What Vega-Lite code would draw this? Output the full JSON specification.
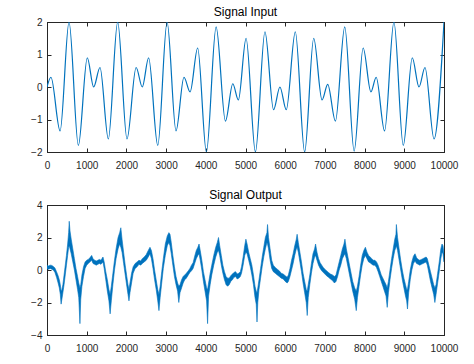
{
 "$schema": "https://vega.github.io/schema/vega-lite/v6.json",
 "padding": {"left": 30, "top": 5, "right": 5, "bottom": 5},
 "background": "white",
 "config": {
  "font": "Liberation Sans",
  "view": {"stroke": "#262626", "strokeWidth": 1},
  "axis": {"grid": false, "labelFont": "Liberation Sans", "labelFontSize": 10, "labelColor": "#262626", "domainColor": "#262626", "tickColor": "#262626", "tickSize": -4, "title": null, "labelOverlap": false, "labelFlush": false, "format": "d"},
  "axisX": {"labelPadding": 12},
  "axisY": {"labelPadding": 9},
  "title": {"fontSize": 12, "fontWeight": "normal", "color": "#000000", "offset": -2, "font": "Liberation Sans"},
  "concat": {"spacing": 17}
 },
 "vconcat": [
  {
   "width": 397, "height": 130,
   "title": "Signal Input",
   "data": {"values": [
    {"x":0,"y":0.0},{"x":100,"y":0.3},{"x":330,"y":-1.35},{"x":555,"y":2.0},{"x":790,"y":-1.8},{"x":1015,"y":0.9},{"x":1175,"y":0.0},{"x":1335,"y":0.6},{"x":1545,"y":-1.6},{"x":1780,"y":2.0},{"x":2015,"y":-1.6},{"x":2245,"y":0.6},{"x":2400,"y":0.0},{"x":2560,"y":0.9},{"x":2790,"y":-1.8},{"x":3025,"y":2.0},{"x":3250,"y":-1.35},{"x":3450,"y":0.3},{"x":3605,"y":-0.15},{"x":3795,"y":1.2},{"x":4015,"y":-2.0},{"x":4260,"y":1.85},{"x":4495,"y":-1.05},{"x":4680,"y":0.1},{"x":4820,"y":-0.4},{"x":5015,"y":1.5},{"x":5250,"y":-2.0},{"x":5490,"y":1.7},{"x":5707,"y":-0.7},{"x":5867,"y":0.0},{"x":6027,"y":-0.7},{"x":6255,"y":1.7},{"x":6490,"y":-2.0},{"x":6718,"y":1.5},{"x":6928,"y":-0.4},{"x":7071,"y":0.08},{"x":7265,"y":-1.05},{"x":7500,"y":1.85},{"x":7737,"y":-1.97},{"x":7964,"y":1.2},{"x":8158,"y":-0.15},{"x":8292,"y":0.3},{"x":8503,"y":-1.35},{"x":8739,"y":2.0},{"x":8974,"y":-1.8},{"x":9201,"y":0.9},{"x":9370,"y":0.0},{"x":9521,"y":0.6},{"x":9749,"y":-1.6},{"x":10000,"y":2.0}
   ]},
   "layer": [
    {
     "mark": {"type": "line", "color": "#0072BD", "strokeWidth": 1.2, "interpolate": "monotone", "clip": true},
     "encoding": {
      "x": {"field": "x", "type": "quantitative", "scale": {"domain": [0, 10000], "nice": false}, "axis": {"values": [0,1000,2000,3000,4000,5000,6000,7000,8000,9000,10000], "orient": "bottom"}},
      "y": {"field": "y", "type": "quantitative", "scale": {"domain": [-2, 2], "nice": false}, "axis": {"values": [-2,-1,0,1,2], "orient": "left"}}
     }
    },
    {
     "mark": {"type": "line", "opacity": 0, "clip": true},
     "encoding": {
      "x": {"field": "x", "type": "quantitative", "axis": {"values": [0,1000,2000,3000,4000,5000,6000,7000,8000,9000,10000], "orient": "top", "labels": false}},
      "y": {"field": "y", "type": "quantitative", "axis": {"values": [-2,-1,0,1,2], "orient": "right", "labels": false}}
     }
    }
   ],
   "resolve": {"axis": {"x": "independent", "y": "independent"}}
  },
  {
   "width": 397, "height": 130,
   "title": "Signal Output",
   "data": {"values": [
    {"x":0,"lo":0.08,"hi":0.3},{"x":40,"lo":0.05,"hi":0.25},{"x":80,"lo":0.1,"hi":0.3},{"x":120,"lo":0.05,"hi":0.28},{"x":160,"lo":0.0,"hi":0.22},{"x":200,"lo":-0.15,"hi":0.12},{"x":240,"lo":-0.45,"hi":-0.1},{"x":280,"lo":-0.8,"hi":-0.35},{"x":310,"lo":-1.1,"hi":-0.6},{"x":335,"lo":-1.5,"hi":-0.9},{"x":355,"lo":-2.1,"hi":-1.3},{"x":375,"lo":-1.8,"hi":-1.2},{"x":400,"lo":-1.4,"hi":-0.9},{"x":430,"lo":-0.9,"hi":-0.3},{"x":460,"lo":-0.3,"hi":0.3},{"x":490,"lo":0.3,"hi":0.9},{"x":520,"lo":0.9,"hi":1.6},{"x":545,"lo":1.4,"hi":2.3},{"x":560,"lo":1.5,"hi":3.0},{"x":580,"lo":1.3,"hi":2.4},{"x":610,"lo":1.0,"hi":1.9},{"x":650,"lo":0.5,"hi":1.3},{"x":690,"lo":0.0,"hi":0.7},{"x":730,"lo":-0.6,"hi":0.1},{"x":770,"lo":-1.2,"hi":-0.4},{"x":800,"lo":-1.7,"hi":-0.8},{"x":830,"lo":-3.3,"hi":-1.1},{"x":850,"lo":-1.8,"hi":-0.9},{"x":880,"lo":-1.0,"hi":-0.3},{"x":920,"lo":-0.4,"hi":0.2},{"x":960,"lo":0.1,"hi":0.5},{"x":1000,"lo":0.3,"hi":0.6},{"x":1040,"lo":0.4,"hi":0.65},{"x":1080,"lo":0.5,"hi":0.75},{"x":1125,"lo":0.6,"hi":0.9},{"x":1160,"lo":0.4,"hi":0.7},{"x":1200,"lo":0.35,"hi":0.6},{"x":1240,"lo":0.3,"hi":0.55},{"x":1280,"lo":0.35,"hi":0.6},{"x":1320,"lo":0.4,"hi":0.65},{"x":1360,"lo":0.35,"hi":0.6},{"x":1410,"lo":0.5,"hi":0.8},{"x":1440,"lo":0.1,"hi":0.5},{"x":1480,"lo":-0.6,"hi":-0.1},{"x":1520,"lo":-1.3,"hi":-0.6},{"x":1560,"lo":-1.9,"hi":-1.2},{"x":1590,"lo":-2.7,"hi":-1.5},{"x":1620,"lo":-1.9,"hi":-1.0},{"x":1660,"lo":-0.9,"hi":-0.2},{"x":1700,"lo":0.0,"hi":0.6},{"x":1740,"lo":0.7,"hi":1.3},{"x":1790,"lo":1.3,"hi":2.0},{"x":1830,"lo":1.6,"hi":2.3},{"x":1860,"lo":1.4,"hi":2.6},{"x":1890,"lo":1.1,"hi":1.9},{"x":1930,"lo":0.4,"hi":1.1},{"x":1970,"lo":-0.3,"hi":0.3},{"x":2010,"lo":-1.0,"hi":-0.4},{"x":2040,"lo":-1.5,"hi":-0.9},{"x":2065,"lo":-1.9,"hi":-1.2},{"x":2090,"lo":-1.4,"hi":-0.8},{"x":2130,"lo":-0.8,"hi":-0.2},{"x":2170,"lo":-0.2,"hi":0.2},{"x":2220,"lo":0.1,"hi":0.4},{"x":2270,"lo":0.2,"hi":0.5},{"x":2317,"lo":0.35,"hi":0.6},{"x":2360,"lo":0.3,"hi":0.55},{"x":2400,"lo":0.4,"hi":0.7},{"x":2450,"lo":0.5,"hi":0.8},{"x":2500,"lo":0.6,"hi":0.95},{"x":2550,"lo":0.8,"hi":1.2},{"x":2594,"lo":1.0,"hi":1.4},{"x":2630,"lo":0.7,"hi":1.2},{"x":2670,"lo":0.1,"hi":0.7},{"x":2710,"lo":-0.6,"hi":0.0},{"x":2750,"lo":-1.2,"hi":-0.6},{"x":2790,"lo":-1.9,"hi":-1.2},{"x":2820,"lo":-2.5,"hi":-1.5},{"x":2850,"lo":-1.7,"hi":-1.0},{"x":2890,"lo":-0.8,"hi":-0.1},{"x":2930,"lo":0.1,"hi":0.7},{"x":2980,"lo":0.9,"hi":1.6},{"x":3030,"lo":1.5,"hi":2.1},{"x":3070,"lo":1.7,"hi":2.3},{"x":3098,"lo":1.5,"hi":2.2},{"x":3130,"lo":1.0,"hi":1.7},{"x":3170,"lo":0.3,"hi":0.9},{"x":3210,"lo":-0.4,"hi":0.2},{"x":3250,"lo":-0.9,"hi":-0.4},{"x":3290,"lo":-1.3,"hi":-0.8},{"x":3320,"lo":-2.0,"hi":-1.0},{"x":3350,"lo":-1.4,"hi":-0.9},{"x":3390,"lo":-1.1,"hi":-0.6},{"x":3430,"lo":-0.8,"hi":-0.4},{"x":3470,"lo":-0.6,"hi":-0.3},{"x":3510,"lo":-0.5,"hi":-0.2},{"x":3560,"lo":-0.3,"hi":-0.05},{"x":3600,"lo":-0.15,"hi":0.1},{"x":3640,"lo":-0.05,"hi":0.3},{"x":3680,"lo":0.1,"hi":0.45},{"x":3720,"lo":0.4,"hi":0.85},{"x":3760,"lo":0.7,"hi":1.2},{"x":3800,"lo":0.9,"hi":1.4},{"x":3830,"lo":1.0,"hi":1.6},{"x":3860,"lo":0.6,"hi":1.2},{"x":3900,"lo":0.0,"hi":0.6},{"x":3940,"lo":-0.7,"hi":-0.1},{"x":3980,"lo":-1.3,"hi":-0.6},{"x":4020,"lo":-1.9,"hi":-1.1},{"x":4045,"lo":-3.3,"hi":-1.2},{"x":4070,"lo":-1.6,"hi":-0.8},{"x":4110,"lo":-0.9,"hi":-0.2},{"x":4150,"lo":-0.3,"hi":0.3},{"x":4200,"lo":0.3,"hi":0.9},{"x":4250,"lo":0.8,"hi":1.4},{"x":4290,"lo":1.1,"hi":1.7},{"x":4320,"lo":1.2,"hi":2.0},{"x":4350,"lo":0.9,"hi":1.5},{"x":4390,"lo":0.3,"hi":0.9},{"x":4430,"lo":-0.2,"hi":0.3},{"x":4470,"lo":-0.6,"hi":-0.1},{"x":4510,"lo":-0.9,"hi":-0.4},{"x":4550,"lo":-1.0,"hi":-0.5},{"x":4590,"lo":-0.9,"hi":-0.5},{"x":4630,"lo":-0.7,"hi":-0.35},{"x":4670,"lo":-0.6,"hi":-0.25},{"x":4710,"lo":-0.45,"hi":-0.15},{"x":4750,"lo":-0.4,"hi":-0.1},{"x":4790,"lo":-0.55,"hi":-0.25},{"x":4830,"lo":-0.5,"hi":-0.2},{"x":4870,"lo":-0.4,"hi":-0.1},{"x":4900,"lo":-0.2,"hi":0.2},{"x":4940,"lo":0.3,"hi":0.8},{"x":4980,"lo":0.9,"hi":1.5},{"x":5010,"lo":1.1,"hi":1.9},{"x":5040,"lo":1.0,"hi":1.6},{"x":5080,"lo":0.6,"hi":1.1},{"x":5120,"lo":0.2,"hi":0.7},{"x":5160,"lo":-0.3,"hi":0.3},{"x":5200,"lo":-0.9,"hi":-0.3},{"x":5240,"lo":-1.7,"hi":-1.0},{"x":5270,"lo":-2.1,"hi":-1.3},{"x":5290,"lo":-3.2,"hi":-1.4},{"x":5310,"lo":-2.0,"hi":-1.1},{"x":5340,"lo":-1.2,"hi":-0.6},{"x":5380,"lo":-0.5,"hi":0.1},{"x":5420,"lo":0.2,"hi":0.8},{"x":5460,"lo":0.8,"hi":1.4},{"x":5500,"lo":1.3,"hi":2.0},{"x":5540,"lo":1.7,"hi":2.3},{"x":5555,"lo":1.6,"hi":2.8},{"x":5580,"lo":1.3,"hi":2.0},{"x":5620,"lo":0.6,"hi":1.3},{"x":5660,"lo":0.1,"hi":0.6},{"x":5700,"lo":-0.1,"hi":0.3},{"x":5750,"lo":-0.2,"hi":0.15},{"x":5800,"lo":-0.3,"hi":0.05},{"x":5850,"lo":-0.4,"hi":-0.05},{"x":5900,"lo":-0.5,"hi":-0.2},{"x":5950,"lo":-0.55,"hi":-0.25},{"x":6000,"lo":-0.7,"hi":-0.35},{"x":6050,"lo":-0.8,"hi":-0.45},{"x":6080,"lo":-0.7,"hi":-0.3},{"x":6120,"lo":-0.4,"hi":0.1},{"x":6160,"lo":0.0,"hi":0.6},{"x":6200,"lo":0.4,"hi":1.0},{"x":6240,"lo":0.9,"hi":1.5},{"x":6280,"lo":1.3,"hi":1.9},{"x":6300,"lo":1.4,"hi":2.2},{"x":6330,"lo":1.1,"hi":1.7},{"x":6370,"lo":0.5,"hi":1.1},{"x":6410,"lo":-0.1,"hi":0.5},{"x":6450,"lo":-0.8,"hi":-0.2},{"x":6490,"lo":-1.4,"hi":-0.7},{"x":6530,"lo":-2.0,"hi":-1.2},{"x":6555,"lo":-2.8,"hi":-1.3},{"x":6580,"lo":-1.7,"hi":-0.9},{"x":6620,"lo":-0.9,"hi":-0.3},{"x":6660,"lo":-0.2,"hi":0.4},{"x":6700,"lo":0.4,"hi":1.0},{"x":6740,"lo":0.8,"hi":1.3},{"x":6765,"lo":0.9,"hi":1.6},{"x":6800,"lo":0.6,"hi":1.1},{"x":6840,"lo":0.3,"hi":0.7},{"x":6880,"lo":0.1,"hi":0.45},{"x":6920,"lo":-0.05,"hi":0.3},{"x":6960,"lo":-0.15,"hi":0.15},{"x":7000,"lo":-0.25,"hi":0.05},{"x":7040,"lo":-0.35,"hi":-0.05},{"x":7090,"lo":-0.45,"hi":-0.15},{"x":7140,"lo":-0.55,"hi":-0.25},{"x":7190,"lo":-0.65,"hi":-0.3},{"x":7240,"lo":-0.8,"hi":-0.4},{"x":7280,"lo":-0.7,"hi":-0.3},{"x":7320,"lo":-0.4,"hi":0.1},{"x":7360,"lo":0.0,"hi":0.5},{"x":7400,"lo":0.3,"hi":0.9},{"x":7440,"lo":0.7,"hi":1.3},{"x":7480,"lo":0.9,"hi":1.6},{"x":7505,"lo":1.0,"hi":1.9},{"x":7540,"lo":0.7,"hi":1.3},{"x":7580,"lo":0.2,"hi":0.8},{"x":7620,"lo":-0.3,"hi":0.3},{"x":7660,"lo":-0.8,"hi":-0.2},{"x":7700,"lo":-1.3,"hi":-0.7},{"x":7750,"lo":-1.8,"hi":-1.1},{"x":7790,"lo":-2.5,"hi":-1.3},{"x":7820,"lo":-1.7,"hi":-1.0},{"x":7860,"lo":-1.0,"hi":-0.4},{"x":7900,"lo":-0.3,"hi":0.3},{"x":7940,"lo":0.3,"hi":0.9},{"x":7980,"lo":0.7,"hi":1.2},{"x":8020,"lo":0.9,"hi":1.4},{"x":8060,"lo":0.7,"hi":1.1},{"x":8100,"lo":0.5,"hi":0.9},{"x":8140,"lo":0.45,"hi":0.8},{"x":8180,"lo":0.35,"hi":0.7},{"x":8220,"lo":0.3,"hi":0.6},{"x":8260,"lo":0.3,"hi":0.6},{"x":8300,"lo":0.15,"hi":0.5},{"x":8340,"lo":-0.1,"hi":0.3},{"x":8380,"lo":-0.4,"hi":0.0},{"x":8420,"lo":-0.7,"hi":-0.3},{"x":8460,"lo":-1.0,"hi":-0.5},{"x":8500,"lo":-1.3,"hi":-0.7},{"x":8540,"lo":-1.6,"hi":-0.9},{"x":8570,"lo":-2.3,"hi":-1.1},{"x":8600,"lo":-1.4,"hi":-0.7},{"x":8640,"lo":-0.6,"hi":0.0},{"x":8680,"lo":0.1,"hi":0.7},{"x":8720,"lo":0.7,"hi":1.3},{"x":8760,"lo":1.2,"hi":1.9},{"x":8790,"lo":1.4,"hi":2.2},{"x":8800,"lo":1.5,"hi":2.8},{"x":8830,"lo":1.2,"hi":2.0},{"x":8870,"lo":0.6,"hi":1.3},{"x":8910,"lo":0.0,"hi":0.6},{"x":8950,"lo":-0.6,"hi":0.0},{"x":8990,"lo":-1.1,"hi":-0.5},{"x":9030,"lo":-1.6,"hi":-0.9},{"x":9060,"lo":-1.9,"hi":-1.2},{"x":9080,"lo":-2.4,"hi":-1.2},{"x":9110,"lo":-1.4,"hi":-0.7},{"x":9150,"lo":-0.6,"hi":0.0},{"x":9190,"lo":0.0,"hi":0.5},{"x":9230,"lo":0.4,"hi":0.85},{"x":9270,"lo":0.55,"hi":1.0},{"x":9310,"lo":0.4,"hi":0.75},{"x":9350,"lo":0.35,"hi":0.65},{"x":9390,"lo":0.3,"hi":0.6},{"x":9430,"lo":0.35,"hi":0.65},{"x":9470,"lo":0.4,"hi":0.7},{"x":9510,"lo":0.45,"hi":0.75},{"x":9550,"lo":0.5,"hi":0.8},{"x":9580,"lo":0.3,"hi":0.7},{"x":9620,"lo":-0.2,"hi":0.3},{"x":9660,"lo":-0.7,"hi":-0.1},{"x":9700,"lo":-1.1,"hi":-0.5},{"x":9740,"lo":-1.5,"hi":-0.9},{"x":9770,"lo":-2.0,"hi":-1.1},{"x":9800,"lo":-1.5,"hi":-0.9},{"x":9840,"lo":-0.8,"hi":-0.2},{"x":9880,"lo":-0.1,"hi":0.5},{"x":9920,"lo":0.7,"hi":1.3},{"x":9950,"lo":1.1,"hi":1.6},{"x":9975,"lo":1.0,"hi":1.5},{"x":10000,"lo":0.5,"hi":1.0}
   ]},
   "layer": [
    {
     "mark": {"type": "area", "color": "#0072BD", "stroke": "#0072BD", "strokeWidth": 0.6, "clip": true},
     "encoding": {
      "x": {"field": "x", "type": "quantitative", "scale": {"domain": [0, 10000], "nice": false}, "axis": {"values": [0,1000,2000,3000,4000,5000,6000,7000,8000,9000,10000], "orient": "bottom"}},
      "y": {"field": "lo", "type": "quantitative", "scale": {"domain": [-4, 4], "nice": false}, "axis": {"values": [-4,-2,0,2,4], "orient": "left"}},
      "y2": {"field": "hi"}
     }
    },
    {
     "mark": {"type": "line", "opacity": 0, "clip": true},
     "encoding": {
      "x": {"field": "x", "type": "quantitative", "axis": {"values": [0,1000,2000,3000,4000,5000,6000,7000,8000,9000,10000], "orient": "top", "labels": false}},
      "y": {"field": "lo", "type": "quantitative", "axis": {"values": [-4,-2,0,2,4], "orient": "right", "labels": false}}
     }
    }
   ],
   "resolve": {"axis": {"x": "independent", "y": "independent"}}
  }
 ]
}
